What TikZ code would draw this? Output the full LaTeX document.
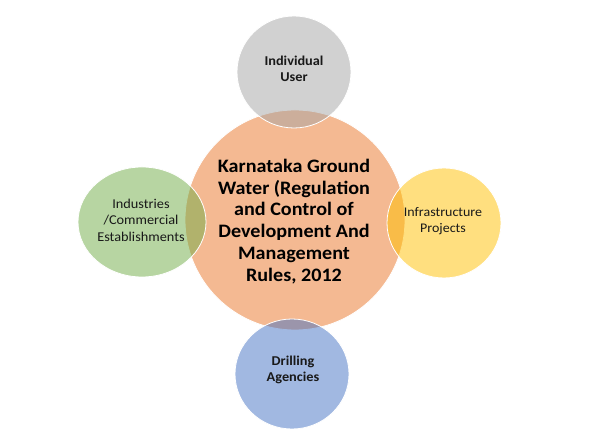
\documentclass[tikz,border=0pt]{standalone}
\usepackage{fontspec}
\setmainfont{Carlito}
\usetikzlibrary{shapes.geometric}
\definecolor{cOrange}{HTML}{F4B992}
\definecolor{cGray}{HTML}{A5A5A5}
\definecolor{cGreen}{HTML}{70AD47}
\definecolor{cYellow}{HTML}{FFC000}
\definecolor{cBlue}{HTML}{4472C4}
\tikzset{
  bubble/.style={ellipse, inner sep=0pt, draw=white, line width=0.8pt,
    fill opacity=0.5},
  hub/.style={circle, inner sep=0pt, draw=white, line width=0.8pt,
    fill=cOrange},
  label/.style={align=center, text=black!90, inner sep=0pt, transform shape},
}
\begin{document}
\begin{tikzpicture}[x=1pt,y=1pt]
\fill[white] (0,0) rectangle (593,438);
\useasboundingbox (0,0) rectangle (593,438);
\node[hub, minimum size=220pt] (hub) at (295,218) {};
\node[label, text=black, xscale=1.06, font=\fontsize{19}{21.8}\selectfont\bfseries] (hubtxt) at (294,216.5)
  {Karnataka Ground\\Water (Regulation\\and Control of\\Development And\\Management\\Rules, 2012};
\node[bubble, fill=cGray, minimum width=114pt, minimum height=112pt] (user) at (294,366) {};
\node[label, xscale=1.06, font=\fontsize{13.5}{16}\selectfont\bfseries] (usertxt) at (294,369) {Individual\\User};
\node[bubble, fill=cGreen, minimum width=128pt, minimum height=110pt] (ind) at (142,216) {};
\node[label, xscale=1.06, font=\fontsize{13.5}{16.5}\selectfont] (indtxt) at (141,218) {Industries\\/Commercial\\Establishments};
\node[bubble, fill=cYellow, minimum width=114pt, minimum height=110pt] (infra) at (444,215) {};
\node[label, xscale=1.06, font=\fontsize{13.2}{16}\selectfont] (infratxt) at (443,217) {Infrastructure\\Projects};
\node[bubble, fill=cBlue, minimum width=114pt, minimum height=110pt] (drill) at (292,64) {};
\node[label, xscale=1.06, font=\fontsize{13.5}{16}\selectfont\bfseries] (drilltxt) at (293,68) {Drilling\\Agencies};
\end{tikzpicture}
\end{document}
